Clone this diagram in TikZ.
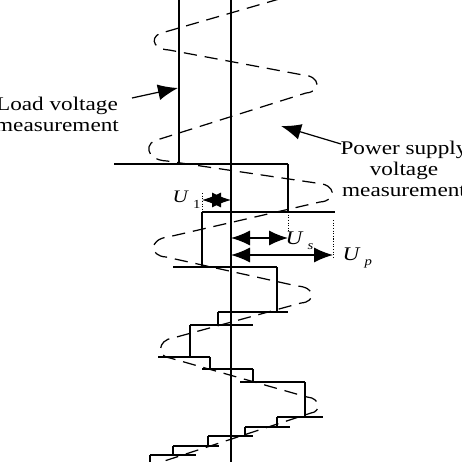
\documentclass[tikz,border=0pt]{standalone}
\usepackage{fontspec}
\newfontfamily\lblfont[FakeStretch=1.2]{Liberation Serif}
\usetikzlibrary{arrows.meta}

\newcommand{\usub}[1]{U\hspace{3pt}\raisebox{-3pt}{\fontsize{7}{7}\selectfont #1}}

\begin{document}
\begin{tikzpicture}
        [x=0.02cm,y=-0.02cm,line width=0.7pt,every node/.style={inner sep=0pt},
        lbl/.style={font=\lblfont\fontsize{11}{12}\selectfont,align=center},
        ulbl/.style={font=\lblfont\itshape\fontsize{11}{11}\selectfont,anchor=base west},
        ptr/.style={-{Latex[length=4mm,width=3.2mm]}},
        dim/.style={{Latex[length=3.8mm,width=3mm]}-{Latex[length=3.8mm,width=3mm]}},
        wave/.style={dash pattern=on 7.5pt off 4.5pt},
        guide/.style={line width=0.5pt,dash pattern=on 0.6pt off 0.9pt}]
        \useasboundingbox (0,0) rectangle (462,462);
        \clip (0,0) rectangle (462,462);

        \draw (231,0) -- (231,462);

        \draw[wave] (300,-7) -- (165,32) .. controls (150,34) and (150,49) .. (169,50)
            -- (303,75) .. controls (321,76) and (321,92) .. (306,93)
            -- (160,139) .. controls (144,141) and (144,160) .. (167,161)
            -- (316,183) .. controls (337,184) and (337,201) .. (320,202)
            -- (168,237) .. controls (149,239) and (149,256) .. (166,257)
            -- (297,286) .. controls (316,287) and (316,302) .. (301,303)
            -- (173,338) .. controls (157,340) and (157,357) .. (170,358)
            -- (307,397) .. controls (321,398) and (321,412) .. (311,413)
            -- (143,468);

        \foreach \xa/\ya/\xb/\yb in {179/0/179/164, 114/164/288/164, 288/164/288/212,
        202/212/335/212, 202/212/202/267, 173/267/277/267, 277/267/277/312,
        218/312/288/312, 218/312/218/325, 190/325/253/325, 190/325/190/357,
        158/357/210/357, 210/357/210/369, 202/369/253/369, 253/369/253/382,
        240/382/305/382, 305/382/305/417, 277/417/323/417, 277/417/277/427,
        245/427/290/427, 245/427/245/436, 208/436/253/436, 208/436/208/446,
        173/446/219/446, 173/446/173/455, 150/455/196/455, 150/455/150/462}
            \draw (\xa,\ya) -- (\xb,\yb);

        \draw[guide] (202,193) -- (202,212);
        \draw[guide] (288,212) -- (288,231);
        \draw[guide] (333,220) -- (333,259);

        \node[lbl] (lload) at (57,114) {Load voltage\\measurement};
        \node[lbl] (lsupply) at (404,169) {Power supply\\voltage\\measurement};
        \coordinate (ltail) at (132,98);
        \coordinate (ltip) at (178,88);
        \coordinate (stail) at (341,144);
        \coordinate (stip) at (281,126);
        \draw[ptr] (ltail) -- (ltip);
        \draw[ptr] (stail) -- (stip);

        \coordinate (o1) at (231,200);
        \coordinate (e1) at (202,200);
        \coordinate (os) at (231,238);
        \coordinate (es) at (288,238);
        \coordinate (op) at (231,255);
        \coordinate (ep) at (333,255);
        \draw[dim] (e1) -- (o1);
        \draw[dim] (os) -- (es);
        \draw[dim] (op) -- (ep);

        \node[ulbl,font=\lblfont\itshape\fontsize{10}{10}\selectfont] (u1) at (172,203) {\usub{\upshape 1}};
        \node[ulbl] (us) at (285,244) {\usub{s}};
        \node[ulbl] (up) at (342,260) {\usub{p}};
\end{tikzpicture}
\end{document}
